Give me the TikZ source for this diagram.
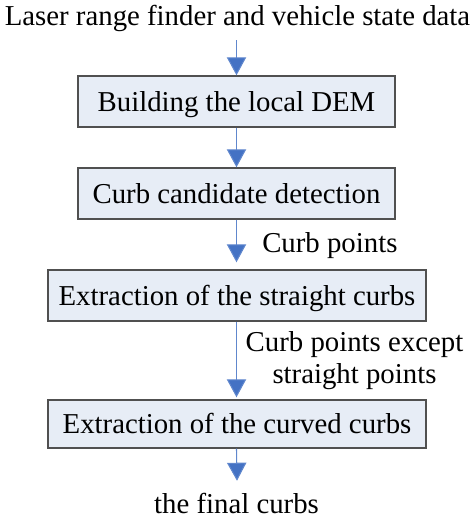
\documentclass[tikz,border=0pt]{standalone}
\usepackage{fontspec}
\setmainfont{Liberation Serif}
\usetikzlibrary{arrows.meta}
\definecolor{boxfill}{HTML}{E7EDF6}
\definecolor{boxline}{HTML}{505050}
\definecolor{flowblue}{HTML}{4472C4}
\begin{document}
\begin{tikzpicture}[x=0.75pt,y=-0.75pt,
  every node/.style={font=\fontsize{21.6}{23.75}\selectfont},
  stepbox/.style={draw=boxline,line width=1.1pt,fill=boxfill,inner sep=0pt,
    text height=14.3pt,text depth=0pt},
  lbl/.style={inner sep=0pt},
  flow/.style={draw=flowblue!85,line width=0.8pt,
    -{Triangle[width=14.5pt,length=13.5pt,fill=flowblue]}}]
\useasboundingbox (0,0) rectangle (474,519);
\node[lbl,anchor=base] (src) at (237.5,25) {Laser range finder and vehicle state data};
\coordinate (s0) at (236.5,40);
\node[stepbox,minimum width=317*0.75pt,minimum height=51*0.75pt] (b1) at (236.5,101.5) {Building the local DEM};
\node[stepbox,minimum width=317*0.75pt,minimum height=51*0.75pt] (b2) at (236.5,193.5) {Curb candidate detection};
\node[stepbox,minimum width=378*0.75pt,minimum height=51*0.75pt] (b3) at (237,295.5) {Extraction of the straight curbs};
\node[stepbox,minimum width=378*0.75pt,minimum height=48*0.75pt] (b4) at (237,424) {Extraction of the curved curbs};
\node[lbl,anchor=base west] (l1) at (262,252) {Curb points};
\node[lbl,anchor=base,align=center] (l2) at (354.5,383.3) {Curb points except\\straight points};
\node[lbl,anchor=base] (fin) at (236.5,513) {the final curbs};
\draw[flow] (s0) -- (b1.north);
\draw[flow] (b2.north |- b1.south) -- (b2.north);
\draw[flow] (b2.south) -- ([yshift=5.25pt]b2.south |- b3.north);
\draw[flow] (b2.south |- b3.south) -- ([yshift=1.5pt]b2.south |- b4.north);
\draw[flow] (b2.south |- b4.south) -- ([yshift=-32*0.75pt]b4.south);
\end{tikzpicture}
\end{document}
